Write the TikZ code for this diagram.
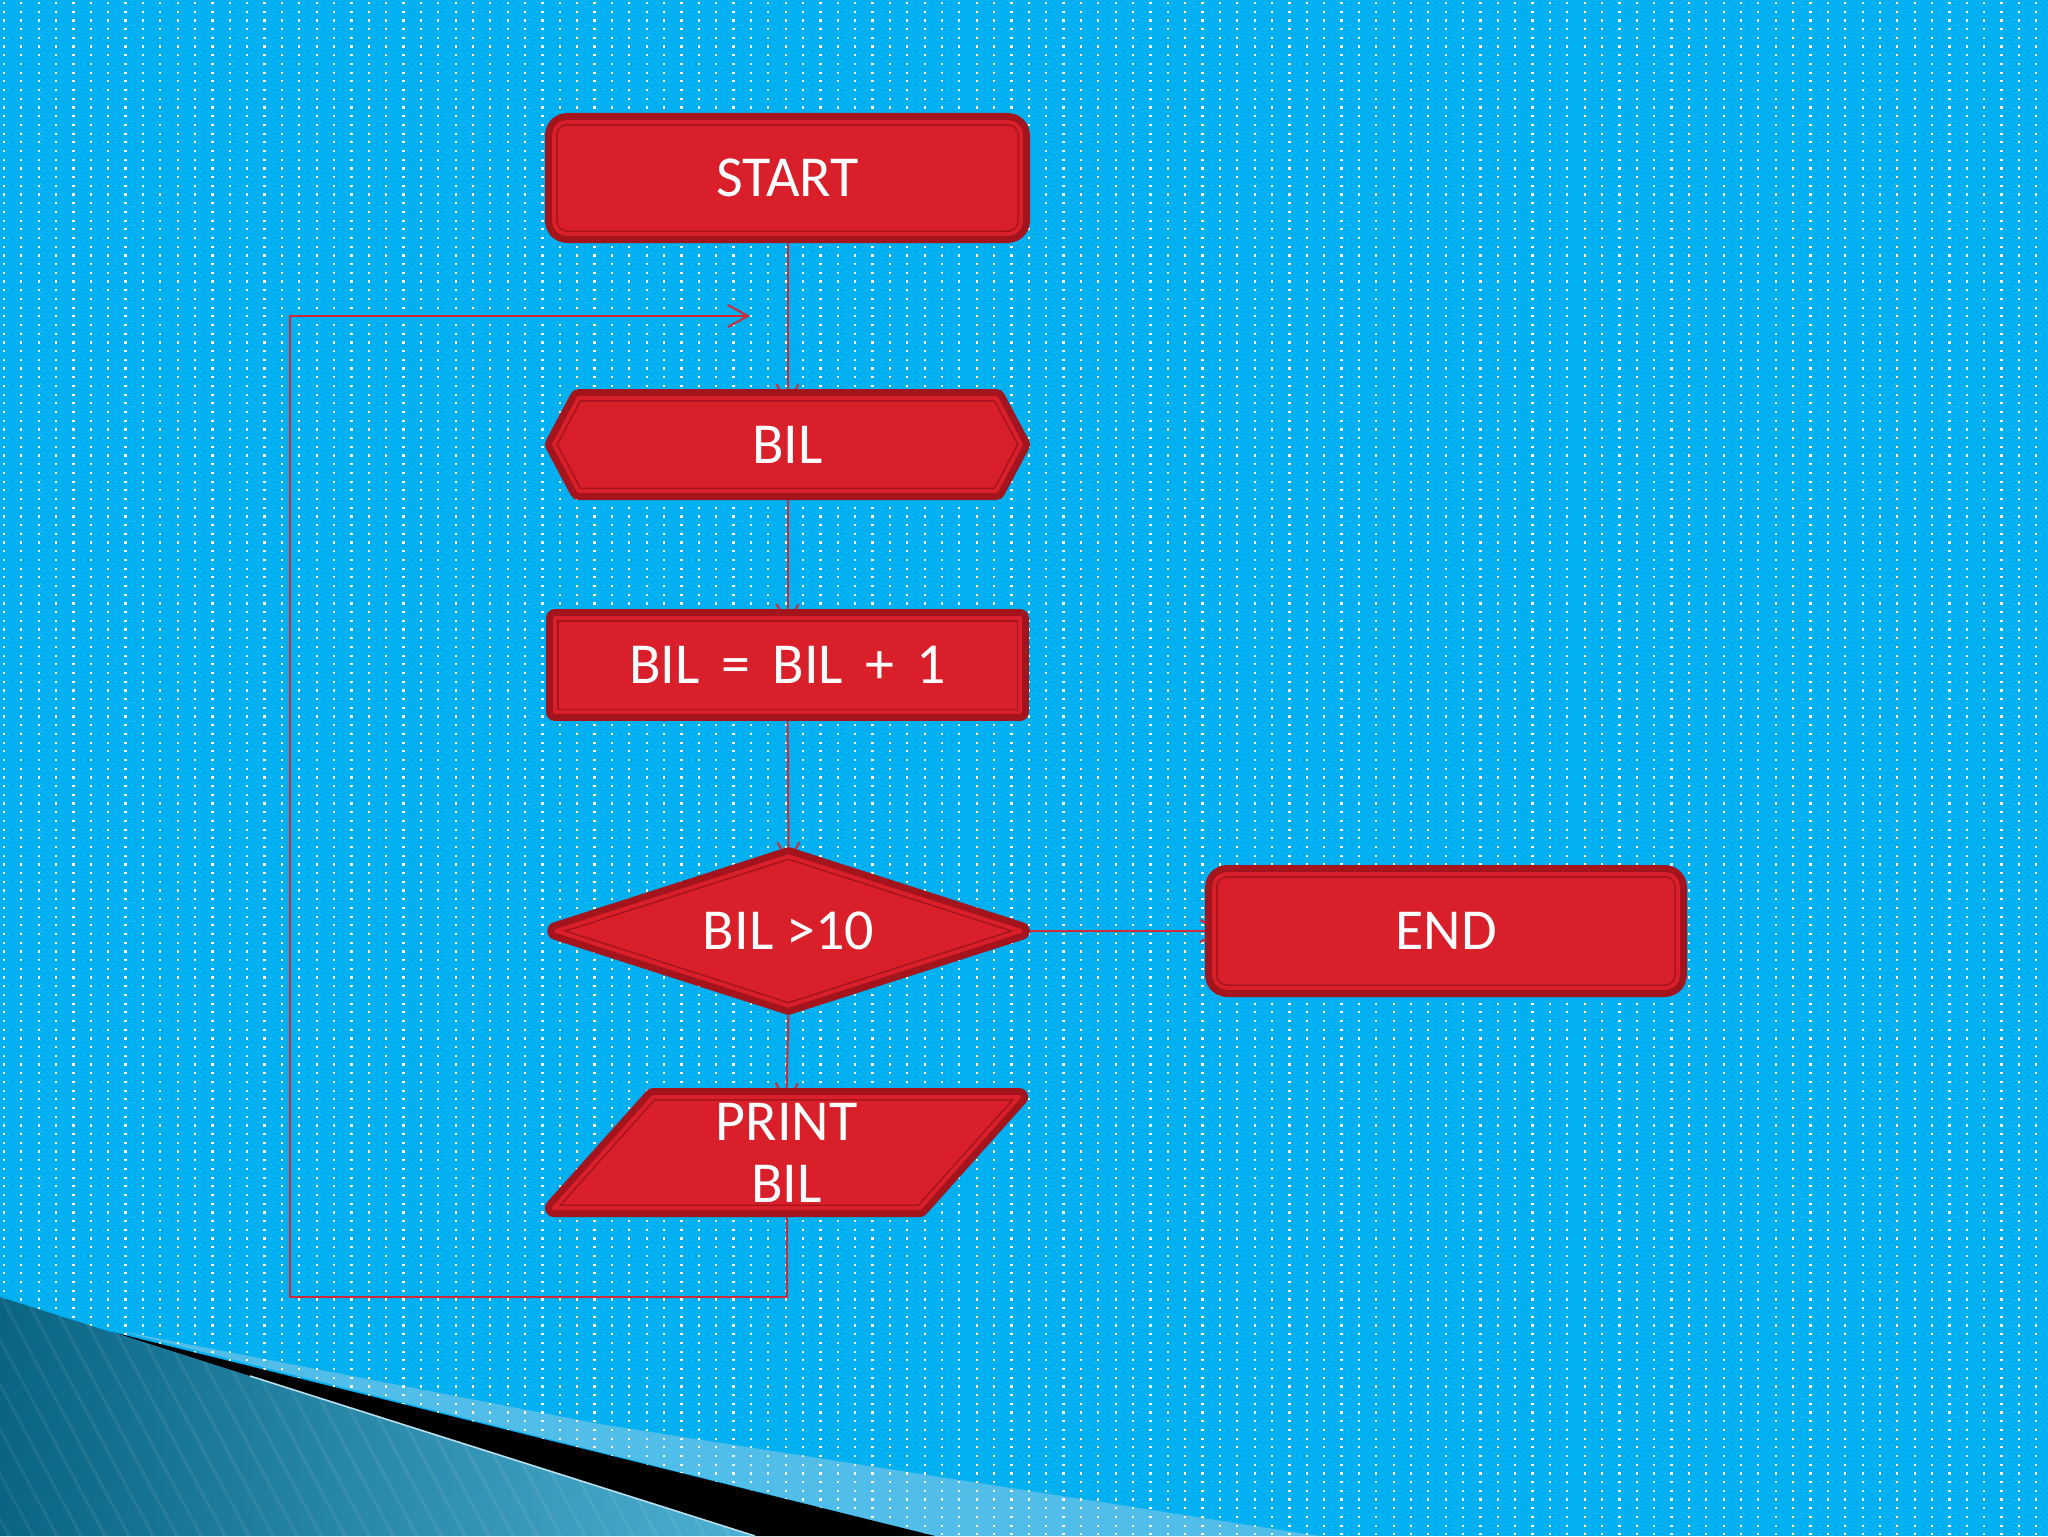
\documentclass[tikz,border=0pt]{standalone}
\usepackage{fontspec}
\setmainfont{Carlito}
\usetikzlibrary{arrows.meta,shapes.geometric,shapes.symbols}
\definecolor{bgblue}{HTML}{00B0F0}
\definecolor{boxred}{HTML}{D91F2A}
\definecolor{edgered}{HTML}{A3141D}
\definecolor{linered}{HTML}{D02A38}
\definecolor{stripeblue}{HTML}{50BEE8}
\definecolor{tealdark}{HTML}{0A6482}
\definecolor{teallight}{HTML}{4DB0D2}
\pgfdeclarelayer{back}
\pgfdeclarelayer{conn}
\pgfsetlayers{back,conn,main}
\newcommand\lblfont{\fontsize{29pt}{31pt}\selectfont}
\newcommand\gap{\hspace{0.38em}}
\begin{document}
\begin{tikzpicture}[x=0.5pt,y=-0.5pt,
  fc/.style={fill=boxred, draw=edgered, line width=0.75pt, double=boxred,
    double distance=2pt, line join=round,
    preaction={draw=edgered, line width=9pt, line join=round},
    text=white, font=\lblfont, inner sep=0pt, align=center},
  startend/.style={fc, rectangle, rounded corners=6.5pt},
  conn/.style={draw=linered, line width=1pt,
    -{Straight Barb[length=10pt,width=11pt]}, shorten >=-4.5pt},
  loopline/.style={draw=linered, line width=1pt,
    -{Straight Barb[length=10pt,width=11pt]}},
]
\useasboundingbox (0,0) rectangle (2048,1536);
\begin{pgfonlayer}{back}
  \fill[bgblue] (0,0) rectangle (2048,1536);
  \fill[stripeblue] (115,1330) -- (600,1424) -- (1300,1533) -- (1320,1536)
     -- (935,1536) -- cycle;
  \foreach \i in {0,...,117}
    \draw[white, line width=1.1pt, dash pattern=on 1.1pt off 3.25pt]
      ({4+\i*17.37},2) -- ({4+\i*17.37},1536);
  \fill[black] (112,1332) -- (935,1536) -- (750,1536) -- cycle;
  \shade[left color=tealdark, right color=teallight]
     (0,1297) -- (755,1536) -- (0,1536) -- cycle;
  \begin{scope}
    \clip (0,1297) -- (755,1536) -- (0,1536) -- cycle;
    \foreach \k in {0,...,40}
      \draw[white, opacity=0.07, line width=1.5pt] ({-200+\k*24},1280) -- ({-50+\k*24},1560);
  \end{scope}
  \draw[white!60!teallight, line width=0.8pt] (250,1376) -- (755,1536);
\end{pgfonlayer}

\node[startend, minimum width=233.5pt, minimum height=56pt] (start) at (787.5,178) {START};
\node[fc, signal, signal to=east and west, signal pointer angle=124,
      minimum width=233.5pt, minimum height=46.5pt] (bil) at (787.5,444.5) {BIL};
\node[fc, rectangle, minimum width=232.5pt, minimum height=47pt] (inc) at (787.5,665)
      {BIL\gap=\gap BIL\gap+\gap 1};
\node[fc, diamond, aspect=3.1, minimum width=232.5pt, minimum height=75pt] (dec) at (788.5,931) {BIL >10};
\node[startend, minimum width=232pt, minimum height=57pt] (end) at (1446,931) {END};
\node[fc, trapezium, trapezium left angle=45, trapezium right angle=135,
      trapezium stretches body=true, minimum width=232.5pt, minimum height=55.5pt]
      (print) at (786.5,1152.5) {PRINT\\BIL};

\coordinate (loopcorner) at (290,1297);
\coordinate (loopend) at (750,316);
\begin{pgfonlayer}{conn}
  \draw[conn] (start.south) -- (bil.north);
  \draw[conn] (bil.south) -- (inc.north);
  \draw[conn] (inc.south) -- (dec.north);
  \draw[conn] (dec.east) -- (end.west);
  \draw[conn] (dec.south) -- (print.north);
  \draw[loopline] (print.south) |- (loopcorner) |- (loopend);
\end{pgfonlayer}
\end{tikzpicture}
\end{document}
